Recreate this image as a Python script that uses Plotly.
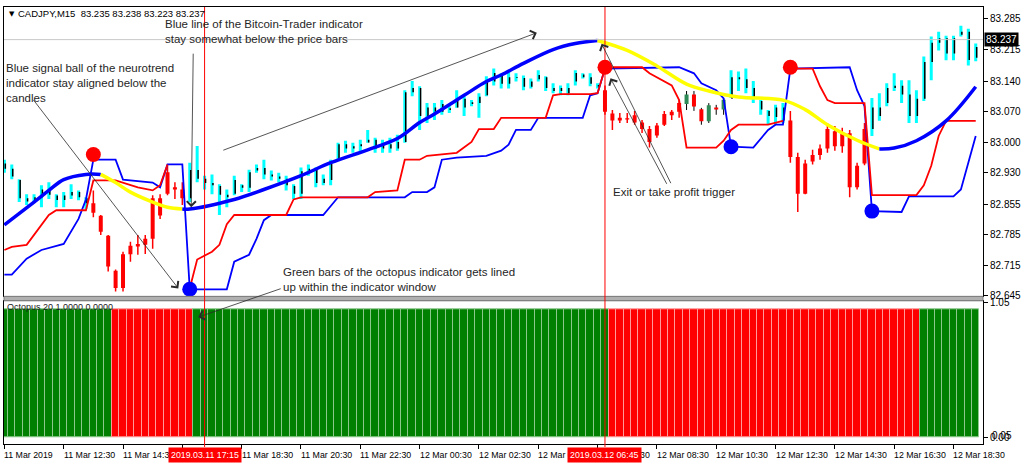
import plotly.graph_objects as go

# ---------------- data ----------------
SYMBOL = "CADJPY,M15"
LAST_OHLC = [83.235, 83.238, 83.223, 83.237]
LAST_PRICE = 83.237

# 132 fifteen-minute bars, bar 0 = 11 Mar 2019 10:30
HIGH = [82.959, 82.948, 82.914, 82.879, 82.879, 82.900, 82.907, 82.879, 82.884, 82.902,
        82.888, 82.872, 82.888, 82.831, 82.785, 82.705, 82.746, 82.769, 82.785, 82.785,
        82.877, 82.879, 82.946, 82.907, 82.907, 82.952, 82.991, 82.922, 82.925, 82.902,
        82.890, 82.922, 82.902, 82.936, 82.948, 82.959, 82.934, 82.929, 82.922, 82.902,
        82.941, 82.948, 82.941, 82.925, 82.959, 82.998, 83.003, 82.998, 83.005, 83.028,
        83.010, 83.005, 83.010, 83.017, 83.120, 83.141, 83.129, 83.090, 83.090, 83.097,
        83.083, 83.120, 83.106, 83.097, 83.113, 83.152, 83.170, 83.159, 83.166, 83.159,
        83.154, 83.147, 83.166, 83.152, 83.136, 83.131, 83.136, 83.166, 83.159, 83.159,
        83.136, 83.131, 83.074, 83.067, 83.067, 83.072, 83.051, 83.037, 83.044, 83.072,
        83.074, 83.097, 83.118, 83.118, 83.079, 83.090, 83.086, 83.102, 83.166, 83.163,
        83.170, 83.141, 83.097, 83.074, 83.086, 83.090, 83.072, 82.975, 82.959, 82.982,
        82.994, 83.044, 83.037, 83.033, 83.028, 82.952, 83.044, 83.102, 83.113, 83.136,
        83.159, 83.143, 83.143, 83.120, 83.198, 83.244, 83.255, 83.246, 83.246, 83.269,
        83.262, 83.228]
LOW = [82.929, 82.914, 82.861, 82.854, 82.861, 82.849, 82.868, 82.849, 82.849, 82.868,
       82.865, 82.845, 82.826, 82.785, 82.700, 82.654, 82.654, 82.723, 82.739, 82.741,
       82.753, 82.822, 82.877, 82.868, 82.854, 82.861, 82.907, 82.890, 82.879, 82.831,
       82.849, 82.877, 82.884, 82.884, 82.929, 82.914, 82.911, 82.907, 82.888, 82.868,
       82.868, 82.922, 82.895, 82.900, 82.900, 82.957, 82.975, 82.975, 82.975, 82.998,
       82.975, 82.975, 82.975, 82.980, 82.998, 83.106, 83.028, 83.044, 83.051, 83.063,
       83.067, 83.079, 83.060, 83.083, 83.056, 83.106, 83.131, 83.124, 83.124, 83.140,
       83.120, 83.124, 83.140, 83.118, 83.113, 83.108, 83.108, 83.131, 83.147, 83.129,
       83.124, 83.063, 83.028, 83.044, 83.044, 83.040, 83.021, 82.987, 83.010, 83.037,
       83.051, 83.056, 83.074, 83.072, 83.040, 83.044, 83.063, 83.063, 83.102, 83.118,
       83.113, 83.090, 83.063, 83.040, 83.040, 83.044, 82.952, 82.838, 82.879, 82.948,
       82.959, 82.975, 82.980, 82.975, 82.872, 82.890, 82.946, 83.014, 83.049, 83.083,
       83.118, 83.090, 83.044, 83.044, 83.095, 83.143, 83.212, 83.189, 83.189, 83.244,
       83.177, 83.187]
OPEN = [82.950, 82.938, 82.912, 82.870, 82.862, 82.872, 82.890, 82.876, 82.866, 82.876,
        82.884, 82.870, 82.858, 82.829, 82.783, 82.702, 82.662, 82.740, 82.758, 82.762,
        82.776, 82.870, 82.880, 82.895, 82.890, 82.870, 82.935, 82.915, 82.905, 82.898,
        82.878, 82.880, 82.900, 82.894, 82.934, 82.940, 82.925, 82.920, 82.915, 82.898,
        82.880, 82.932, 82.936, 82.905, 82.912, 82.960, 82.995, 82.985, 82.990, 82.999,
        83.005, 82.985, 82.995, 82.985, 83.000, 83.115, 83.125, 83.060, 83.080, 83.070,
        83.078, 83.080, 83.100, 83.088, 83.090, 83.108, 83.140, 83.155, 83.135, 83.150,
        83.148, 83.128, 83.145, 83.150, 83.125, 83.118, 83.125, 83.140, 83.156, 83.150,
        83.132, 83.120, 83.066, 83.056, 83.055, 83.062, 83.045, 83.030, 83.015, 83.040,
        83.062, 83.070, 83.088, 83.110, 83.076, 83.048, 83.080, 83.075, 83.100, 83.150,
        83.145, 83.125, 83.095, 83.072, 83.058, 83.080, 83.050, 82.965, 82.880, 82.955,
        82.970, 82.985, 83.025, 82.990, 83.020, 82.895, 82.950, 83.030, 83.080, 83.090,
        83.125, 83.130, 83.110, 83.060, 83.100, 83.185, 83.230, 83.240, 83.205, 83.248,
        83.255, 83.195]
CLOSE = [82.938, 82.920, 82.870, 82.862, 82.872, 82.890, 82.878, 82.866, 82.876, 82.884,
         82.872, 82.858, 82.836, 82.792, 82.712, 82.662, 82.740, 82.760, 82.764, 82.776,
         82.870, 82.830, 82.930, 82.890, 82.870, 82.935, 82.915, 82.905, 82.900, 82.878,
         82.872, 82.912, 82.894, 82.930, 82.940, 82.925, 82.920, 82.915, 82.900, 82.880,
         82.932, 82.938, 82.905, 82.915, 82.950, 82.995, 82.985, 82.990, 82.995, 83.005,
         82.985, 82.995, 82.985, 83.000, 83.115, 83.125, 83.060, 83.080, 83.070, 83.088,
         83.074, 83.100, 83.080, 83.092, 83.105, 83.140, 83.160, 83.135, 83.150, 83.148,
         83.128, 83.140, 83.155, 83.125, 83.118, 83.125, 83.112, 83.160, 83.150, 83.135,
         83.128, 83.070, 83.050, 83.050, 83.052, 83.045, 83.030, 83.000, 83.038, 83.065,
         83.070, 83.090, 83.110, 83.082, 83.048, 83.085, 83.075, 83.098, 83.150, 83.145,
         83.125, 83.100, 83.075, 83.060, 83.080, 83.050, 82.965, 82.880, 82.950, 82.970,
         82.985, 83.030, 82.990, 83.020, 82.895, 82.945, 83.030, 83.080, 83.060, 83.125,
         83.130, 83.110, 83.060, 83.100, 83.185, 83.230, 83.240, 83.205, 83.240, 83.255,
         83.190, 83.220]
# bar painting: c = cyan (bullish paint), r = red (bearish paint), n = plain candle
STYLE = ("cccccccccccc" + "rrrrrrrrrrrrr" + "c" * 56 + "rrrrrrrrrrr" + "nnnnnn"
         + "cccccccc" + "rrrrrrrrrrr" + "ccccccccccccccc")

# Bitcoin-Trader thick line: (colour, bars, values)
TREND_SEGMENTS = [
    ("#0000ff", [0, 4, 6, 8, 11, 13], [82.808, 82.861, 82.888, 82.913, 82.925, 82.925]),
    ("#ffff00", [13, 15, 17, 20, 22, 24], [82.925, 82.906, 82.884, 82.861, 82.849, 82.845]),
    ("#0000ff", [24, 25, 31, 35, 40, 44, 49, 53, 56, 58, 62, 65, 67, 70, 74, 77, 80],
     [82.845, 82.845, 82.867, 82.890, 82.922, 82.952, 82.982, 83.008, 83.045, 83.065,
      83.108, 83.140, 83.155, 83.182, 83.214, 83.228, 83.235]),
    ("#ffff00", [80, 84, 88, 92, 95, 99, 105, 108, 111, 115, 118],
     [83.235, 83.212, 83.176, 83.134, 83.118, 83.104, 83.097, 83.075, 83.040, 83.004, 82.984]),
    ("#0000ff", [118, 120, 123, 127, 131], [82.984, 82.986, 83.003, 83.049, 83.128]),
]

# Neurotrend thin blue band (bar, value)
BLUE_BAND_BARS = [0, 1, 3, 5, 8, 10, 11, 12, 15, 16, 20, 21, 22, 24, 25, 30, 31, 33, 34, 35,
                  36, 43, 45, 54, 55, 57, 58, 59, 61, 65, 67, 68, 69, 71, 72, 78, 79, 80, 81,
                  91, 93, 94, 96, 97, 98, 101, 103, 104, 105, 106, 114, 115, 116, 117, 121,
                  122, 128, 129, 131]
BLUE_BAND_VALS = [82.693, 82.693, 82.730, 82.750, 82.764, 82.822, 82.867, 82.959, 82.959,
                  82.913, 82.906, 82.895, 82.948, 82.948, 82.659, 82.659, 82.723, 82.739,
                  82.776, 82.819, 82.831, 82.831, 82.872, 82.872, 82.884, 82.884, 82.895,
                  82.959, 82.964, 82.968, 82.980, 82.994, 83.028, 83.028, 83.056, 83.056,
                  83.108, 83.113, 83.170, 83.173, 83.159, 83.136, 83.120, 83.101, 82.989,
                  82.987, 83.028, 83.040, 83.040, 83.170, 83.173, 83.120, 83.083, 82.840,
                  82.838, 82.874, 82.874, 82.890, 83.014]

# Neurotrend thin red band, in separate pieces
RED_BAND_SEGMENTS = [
    ([0, 1, 3, 4, 6, 7, 11, 12, 15, 18, 20, 21, 22],
     [82.750, 82.757, 82.762, 82.785, 82.831, 82.842, 82.842, 82.911, 82.911, 82.895,
      82.888, 82.900, 82.948]),
    ([25, 26, 28, 29, 30, 31, 38, 39, 40, 49, 50, 53, 54, 56, 57, 61, 63, 64, 66, 67, 73,
      74, 75, 79, 80, 81],
     [82.661, 82.728, 82.746, 82.762, 82.810, 82.831, 82.831, 82.867, 82.872, 82.872,
      82.884, 82.888, 82.959, 82.959, 82.968, 82.975, 83.000, 83.030, 83.030, 83.056,
      83.056, 83.108, 83.111, 83.111, 83.113, 83.170]),
    ([82, 86, 87, 89, 90, 91, 92, 96, 97, 98, 99, 103, 105],
     [83.173, 83.173, 83.159, 83.140, 83.131, 83.097, 82.987, 82.987, 83.003, 83.028,
      83.040, 83.040, 83.049]),
    ([106, 109, 110, 111, 112, 116, 117, 123, 124, 125, 126, 127, 131],
     [83.170, 83.170, 83.129, 83.097, 83.090, 83.090, 82.877, 82.877, 82.900, 82.945,
      83.014, 83.049, 83.049]),
]

RED_BALL_BARS = [12, 81, 106]
RED_BALL_VALS = [82.971, 83.173, 83.173]
BLUE_BALL_BARS = [25, 98, 117]
BLUE_BALL_VALS = [82.659, 82.989, 82.840]

# Octopus 20 window: 1 = bar drawn, colour G / R
OCTO_VALUE = [1.0] * 132
OCTO_COLOR = "G" * 15 + "R" * 11 + "G" * 56 + "R" * 42 + "G" * 8
OCTO_SCALE = ["1.05", "0.05", "0.00"]

PRICE_TICKS = [83.285, 83.215, 83.140, 83.070, 83.000, 82.930, 82.855, 82.785, 82.715, 82.645]
TIME_TICK_BARS = [0, 8, 16, 24, 32, 40, 48, 56, 64, 72, 80, 88, 96, 104, 112, 120, 128]
TIME_TICK_TEXT = ["11 Mar 2019", "11 Mar 12:30", "11 Mar 14:30", "11 Mar 16:30",
                  "11 Mar 18:30", "11 Mar 20:30", "11 Mar 22:30", "12 Mar 00:30",
                  "12 Mar 02:30", "12 Mar 04:30", "12 Mar 06:30", "12 Mar 08:30",
                  "12 Mar 10:30", "12 Mar 12:30", "12 Mar 14:30", "12 Mar 16:30",
                  "12 Mar 18:30"]
MARK_BARS = [27, 81]
MARK_TEXT = ["2019.03.11 17:15", "2019.03.12 06:45"]

# ---------------- geometry helpers ----------------
W, H = 1024, 465
ML, MR, MT, MB = 3, 38, 3, 21
PW, PH = W - ML - MR, H - MT - MB
def px(x):
    return (x - ML) / PW
def py(y):
    return (H - MB - y) / PH

FONT = "Liberation Sans, Arial, sans-serif"
fig = go.Figure()

# ---------------- candles ----------------
groups = {k: ([], []) for k in ["cw", "cb", "rw", "rb", "nw", "ng", "nr"]}
def add(key, x, a, b):
    groups[key][0].extend([x, x, None])
    groups[key][1].extend([a, b, None])

for i, s in enumerate(STYLE):
    if s == "c":
        add("cw", i, LOW[i], HIGH[i])
        add("cb", i + 0.13, OPEN[i], CLOSE[i])
    elif s == "r":
        add("rw", i, LOW[i], HIGH[i])
        add("rb", i, OPEN[i], CLOSE[i])
    else:
        add("nw", i, LOW[i], HIGH[i])
        add("ng" if CLOSE[i] >= OPEN[i] else "nr", i, OPEN[i], CLOSE[i])

cstyle = {"cw": ("#00ffff", 3), "cb": ("#000000", 1.5), "rw": ("#ff0000", 1.5),
          "rb": ("#ff0000", 4), "nw": ("#000000", 1), "ng": ("#2e8b57", 4),
          "nr": ("#ff0000", 4)}
for k, (xs, ys) in groups.items():
    col, w = cstyle[k]
    fig.add_trace(go.Scatter(x=xs, y=ys, mode="lines", line=dict(color=col, width=w),
                             hoverinfo="skip", showlegend=False, xaxis="x", yaxis="y"))

# ---------------- bands ----------------
fig.add_trace(go.Scatter(x=BLUE_BAND_BARS, y=BLUE_BAND_VALS, mode="lines",
                         line=dict(color="#0000ff", width=1.8), showlegend=False,
                         xaxis="x", yaxis="y"))
for bars, vals in RED_BAND_SEGMENTS:
    fig.add_trace(go.Scatter(x=bars, y=vals, mode="lines",
                             line=dict(color="#ff0000", width=1.8), showlegend=False,
                             xaxis="x", yaxis="y"))

# thick trend line
for col, bars, vals in TREND_SEGMENTS:
    fig.add_trace(go.Scatter(x=bars, y=vals, mode="lines",
                             line=dict(color=col, width=3.5, shape="spline", smoothing=1.0),
                             showlegend=False, xaxis="x", yaxis="y"))

# signal balls
fig.add_trace(go.Scatter(x=RED_BALL_BARS, y=RED_BALL_VALS, mode="markers",
                         marker=dict(color="#ff0000", size=15), showlegend=False,
                         xaxis="x", yaxis="y"))
fig.add_trace(go.Scatter(x=BLUE_BALL_BARS, y=BLUE_BALL_VALS, mode="markers",
                         marker=dict(color="#0000ff", size=15), showlegend=False,
                         xaxis="x", yaxis="y"))

# ---------------- octopus window ----------------
fig.add_trace(go.Bar(x=list(range(len(OCTO_VALUE))), y=OCTO_VALUE, width=1,
                     marker=dict(color=["#008000" if c == "G" else "#ff0000" for c in OCTO_COLOR],
                                 line=dict(color=["#8cc88c" if c == "G" else "#ff9a9a" for c in OCTO_COLOR],
                                           width=1)),
                     showlegend=False, xaxis="x2", yaxis="y2"))

XR = [-0.05, 131.98]
YR = [82.6427, 83.3125]
main_bottom = py(295)
sub_top = py(300)

axis_common = dict(showgrid=False, zeroline=False, showline=True, mirror=True,
                   linecolor="#000000", linewidth=1)
fig.update_layout(
    width=W, height=H, margin=dict(l=ML, r=MR, t=MT, b=MB),
    paper_bgcolor="white", plot_bgcolor="white", bargap=0, showlegend=False,
    xaxis=dict(domain=[0, 1], range=XR, anchor="y", showticklabels=False, ticks="",
               **axis_common),
    yaxis=dict(domain=[main_bottom, 1], range=YR, side="right", tickvals=PRICE_TICKS,
               ticktext=[f"{v:.3f}" for v in PRICE_TICKS], ticks="outside", ticklen=4,
               tickcolor="#000000",
               tickfont=dict(family=FONT, size=10, color="#000000"), **axis_common),
    xaxis2=dict(domain=[0, 1], range=XR, anchor="y2", matches="x", tickvals=TIME_TICK_BARS,
                showticklabels=False, ticks="outside", ticklen=4, tickcolor="#000000",
                **axis_common),
    yaxis2=dict(domain=[0, sub_top], range=[-0.05, 1.06], side="right",
                tickvals=[1.05, 0.0], ticktext=[OCTO_SCALE[0], OCTO_SCALE[2]],
                ticks="outside", ticklen=4, tickcolor="#000000",
                tickfont=dict(family=FONT, size=10, color="#000000"), **axis_common),
)

shapes = []
# separator between windows
shapes.append(dict(type="rect", xref="paper", yref="paper", x0=0, x1=1, y0=py(299.5),
                   y1=py(295), fillcolor="#b0b0b0", line=dict(color="#808080", width=1)))
# current price line
shapes.append(dict(type="line", xref="paper", yref="y", x0=0, x1=1, y0=LAST_PRICE,
                   y1=LAST_PRICE, line=dict(color="#c8c8c8", width=1)))
# vertical marker lines
for b in MARK_BARS:
    shapes.append(dict(type="line", xref="x", yref="paper", x0=b, x1=b, y0=py(447), y1=1,
                       line=dict(color="#ff0000", width=1)))
fig.update_layout(shapes=shapes)

ann = []
# header
ann.append(dict(xref="paper", yref="paper", x=px(6), y=py(10), xanchor="left", yanchor="middle",
                showarrow=False, text="▼",
                font=dict(family="DejaVu Sans", size=7, color="#000000")))
ann.append(dict(xref="paper", yref="paper", x=px(15), y=py(10), xanchor="left", yanchor="middle",
                showarrow=False,
                text=SYMBOL + "  " + " ".join(f"{v:.3f}" for v in LAST_OHLC),
                font=dict(family=FONT, size=9.5, color="#000000")))
# octopus caption
ann.append(dict(xref="paper", yref="paper", x=px(4), y=py(306), xanchor="left", yanchor="middle",
                showarrow=False, text="Octopus 20 1.0000 0.0000",
                font=dict(family=FONT, size=9, color="#1a1a1a")))
# overlapped "0.05" scale label of the octopus window (drawn over the 0.00 one)
ann.append(dict(xref="paper", yref="y2", x=1, y=0.0, xanchor="left", yanchor="middle",
                xshift=7, yshift=2, showarrow=False, text=OCTO_SCALE[1],
                font=dict(family=FONT, size=10, color="#000000")))
# last price tag
ann.append(dict(xref="paper", yref="y", x=1, y=LAST_PRICE, xanchor="left", yanchor="middle",
                xshift=1, showarrow=False, text=f"{LAST_PRICE:.3f}", bgcolor="#000000",
                borderpad=1, font=dict(family=FONT, size=10, color="#ffffff")))
# time labels
for b, t in zip(TIME_TICK_BARS, TIME_TICK_TEXT):
    ann.append(dict(xref="x2", yref="paper", x=b, y=py(455), xanchor="left", yanchor="middle",
                    xshift=-2, showarrow=False, text=t,
                    font=dict(family=FONT, size=8.8, color="#000000")))
for b, t in zip(MARK_BARS, MARK_TEXT):
    ann.append(dict(xref="x2", yref="paper", x=b, y=py(455.5), xanchor="center", yanchor="middle",
                    showarrow=False, text=t, bgcolor="#ff0000", borderpad=2,
                    font=dict(family=FONT, size=8.8, color="#ffffff")))

TXT = dict(family=FONT, size=11.5, color="#262626")
notes = [
    (163, 28, "Blue line of the Bitcoin-Trader indicator<br>stay somewhat below the price bars"),
    (3, 80, "Blue signal ball of the neurotrend<br>indicator stay aligned below the<br>candles"),
    (281, 278, "Green bars of the octopus indicator gets lined<br>up within the indicator window"),
    (612, 190, "Exit or take profit trigger"),
]
for x, y, t in notes:
    ann.append(dict(xref="paper", yref="paper", x=px(x), y=py(y), xanchor="left",
                    yanchor="middle", align="left", showarrow=False, text=t, font=TXT))

# arrows: (tail x, tail y, head x, head y) in pixels
ARROWS = [(32, 97, 178, 287), (193, 50, 191, 205), (223, 147, 538, 29),
          (673, 181, 603, 40), (669, 182, 612, 75), (282, 287, 198, 316)]
for tx, ty, hx, hy in ARROWS:
    ann.append(dict(xref="paper", yref="paper", x=px(hx), y=py(hy), ax=tx - hx, ay=ty - hy,
                    axref="pixel", ayref="pixel", text="", showarrow=True, arrowhead=4,
                    arrowsize=2.2, arrowwidth=0.8, arrowcolor="#2a2a2a"))
fig.update_layout(annotations=ann)

fig.write_html("out.html", config={"displayModeBar": False},
               post_script="document.body.style.margin='0';document.body.style.overflow='hidden';")
